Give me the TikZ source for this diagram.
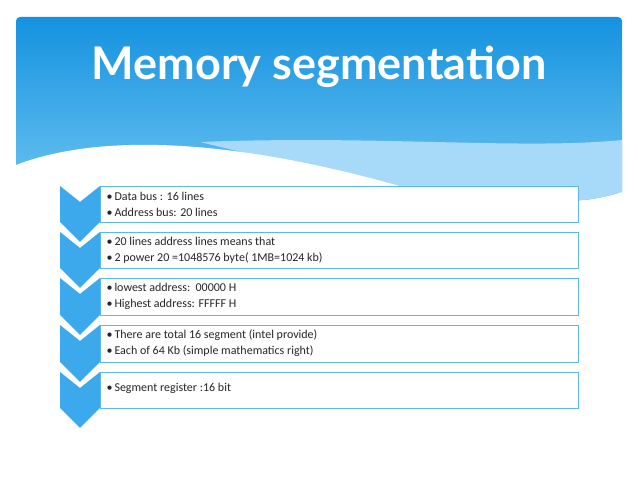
\documentclass[tikz,border=0pt]{standalone}
\usepackage{fontspec}
\setmainfont{Carlito}
\newfontfamily\titlefont{Lato}
\definecolor{hdtop}{HTML}{1592DF}
\definecolor{hdbot}{HTML}{6CC4F2}
\definecolor{wavec}{HTML}{A6DAF8}
\definecolor{chevc}{HTML}{3BA9EC}
\definecolor{boxc}{HTML}{5DB6EE}
\begin{document}
\begin{tikzpicture}[x=1pt,y=-1pt,
  chev/.style={fill=chevc, draw=none},
  itembox/.style={draw=boxc, line width=0.9pt, fill=white},
  itemtext/.style={anchor=west, align=left, font=\fontsize{12}{16}\selectfont, text=black!85}]
\useasboundingbox (0,0) rectangle (638,478);
\fill[white] (0,0) rectangle (638,478);
\shade[top color=hdtop, bottom color=hdbot, rounded corners=4pt]
  (16,17) rectangle (622,200);
\fill[wavec] (200,142) .. controls (380,135) and (520,150) .. (622,140) -- (622,192) .. controls (560,210) and (480,205) .. (420,195) -- cycle;
\fill[white] (16,165) .. controls (120,125) and (280,150) .. (420,192) .. controls (520,215) and (600,200) .. (622,192) -- (622,230) -- (16,230) -- cycle;
\node[text=white, font=\titlefont\bfseries\fontsize{45}{48}\selectfont] (title) at (319,67) {Memory segmentation};
\foreach \t/\b/\n in {186/222/1,232/268/2,278/315/3,325/362/4,372/408/5}{
  \fill[chev] (60,\t) -- (80,\t+16) -- (100,\t) -- (100,\b) -- (80,\b+20) -- (60,\b) -- cycle;
  \draw[itembox] (100,\t) rectangle (578,\b);
}
\node[itemtext] (t1) at (103,204) {\textbullet\,Data bus : 16 lines\\\textbullet\,Address bus: 20 lines};
\node[itemtext] (t2) at (103,250) {\textbullet\,20 lines address lines means that\\\textbullet\,2 power 20 =1048576 byte( 1MB=1024 kb)};
\node[itemtext] (t3) at (103,296) {\textbullet\,lowest address:\ \ 00000 H\\\textbullet\,Highest address: FFFFF H};
\node[itemtext] (t4) at (103,343) {\textbullet\,There are total 16 segment (intel provide)\\\textbullet\,Each of 64 Kb (simple mathematics right)};
\node[itemtext] (t5) at (103,388) {\textbullet\,Segment register :16 bit};
\end{tikzpicture}
\end{document}
